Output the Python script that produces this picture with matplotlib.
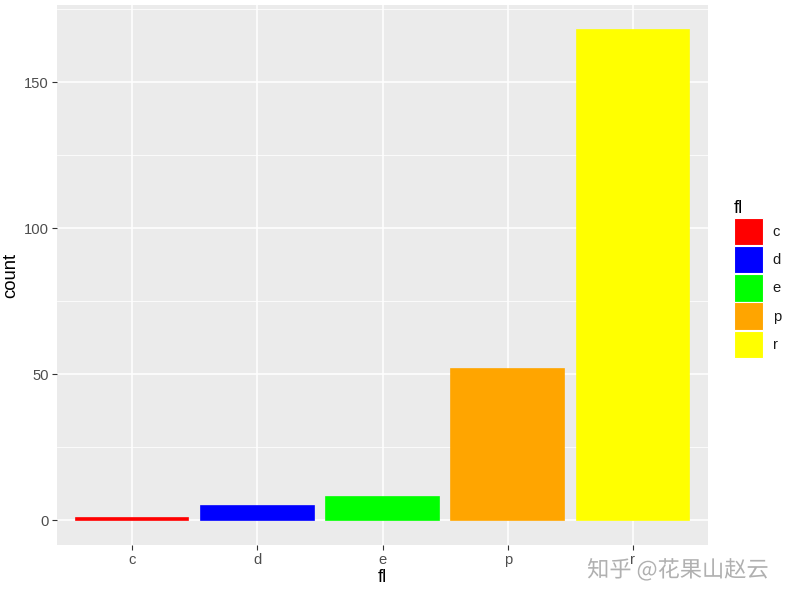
import matplotlib
matplotlib.use("Agg")
import matplotlib.pyplot as plt
from matplotlib.patches import Patch
import matplotlib.patheffects as pe

# data (mpg fuel type counts)
categories = ["c", "d", "e", "p", "r"]
counts = [1, 5, 8, 52, 168]
bar_colors = ["red", "blue", "#00FF00", "orange", "yellow"]
y_ticks = [0, 50, 100, 150]

plt.rcParams["font.family"] = ["Liberation Sans", "Noto Sans CJK SC"]

fig = plt.figure(figsize=(7.95, 6), dpi=100)
ax = fig.add_axes([57 / 795, 55 / 600, 651 / 795, 540 / 600])
ax.set_facecolor("#EBEBEB")

x = list(range(1, len(categories) + 1))
ax.bar(x, counts, width=0.9, color=bar_colors, edgecolor=bar_colors, linewidth=1.2, zorder=3)

ymax = max(counts)
ax.set_ylim(-0.05 * ymax, ymax * 1.05)
ax.set_xlim(0.4, len(categories) + 0.6)

ax.set_yticks(y_ticks)
ax.set_yticks([25, 75, 125, 175], minor=True)
ax.set_xticks(x)
ax.set_xticklabels(categories)

ax.grid(True, which="major", color="white", linewidth=1.1, zorder=0)
ax.grid(True, which="minor", axis="y", color="white", linewidth=0.55, zorder=0)
ax.set_axisbelow(True)
for s in ax.spines.values():
    s.set_visible(False)

ax.tick_params(axis="both", which="major", colors="#333333", labelcolor="#4D4D4D",
               labelsize=10.6, length=3.5, width=0.8, pad=2.5)
ax.tick_params(axis="y", which="minor", length=0)
ax.set_xlabel("fl", fontsize=13.3, color="black", labelpad=1)
ax.set_ylabel("count", fontsize=13.3, color="black", labelpad=3)

# legend
handles = [Patch(facecolor=c, edgecolor="white", linewidth=0.8, label=l)
           for c, l in zip(bar_colors, categories)]
leg = fig.legend(handles=handles, title="fl", loc="upper left",
                 bbox_to_anchor=(722 / 795, 1 - 188 / 600), frameon=False,
                 fontsize=10.6, title_fontsize=13.3, handlelength=2.0, handleheight=2.5,
                 handletextpad=0.65, labelspacing=0.05, borderpad=0.3)
leg._legend_box.align = "left"
for t in leg.get_texts():
    t.set_color("#1A1A1A")

# watermark
fig.text(678 / 795, 1 - 570 / 600, "知乎 @花果山赵云", ha="center", va="center", fontsize=16,
         color="#B0B0B0", family=["Noto Sans CJK SC", "DejaVu Sans"],
         path_effects=[pe.withStroke(linewidth=2, foreground="white")])

fig.savefig("out.png", dpi=100)
